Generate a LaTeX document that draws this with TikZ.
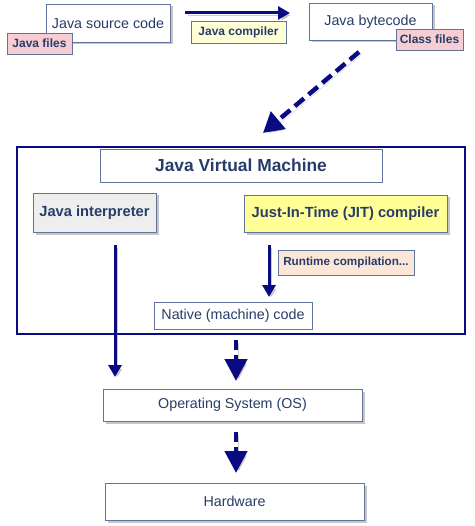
\documentclass[tikz,border=0pt]{standalone}
\usepackage{fontspec}
\setmainfont{Liberation Sans}
\usetikzlibrary{arrows.meta,shadows}
\definecolor{txt}{RGB}{40,60,105}
\definecolor{bord}{RGB}{95,115,155}
\definecolor{navy}{RGB}{10,10,130}
\definecolor{pinkfill}{RGB}{245,205,210}
\definecolor{lyellow}{RGB}{255,255,215}
\definecolor{jityellow}{RGB}{255,255,150}
\definecolor{peach}{RGB}{252,230,215}
\definecolor{lgray}{RGB}{238,238,238}
\tikzset{
  box/.style={draw=bord, line width=0.8pt, fill=white, text=txt, inner sep=0pt,
    drop shadow={shadow xshift=2.5pt, shadow yshift=-2.5pt, opacity=0.45, fill=gray}},
  plain/.style={draw=bord, line width=0.8pt, fill=white, text=txt, inner sep=0pt},
  tag/.style={draw=bord, line width=0.8pt, text=txt, inner sep=0pt, font=\bfseries\fontsize{12}{14}\selectfont},
  reg/.style={font=\fontsize{14.3}{17}\selectfont},
  ashadow/.style={preaction={draw=gray, opacity=0.4, transform canvas={shift={(2.5pt,-2.5pt)}}}},
  arr/.style={draw=navy, line width=3pt, -{Triangle[length=12pt,width=13pt]}, ashadow},
  darr/.style={draw=navy, line width=4.5pt, dash pattern=on 10pt off 5pt, -{Triangle[length=22pt,width=22pt]}, ashadow},
}
\begin{document}
\begin{tikzpicture}[x=1pt,y=-1pt]
\useasboundingbox (0,0) rectangle (474,526);
% top row
\node[box, reg, minimum width=124pt, minimum height=38pt] (src) at (108,23) {Java source code};
\node[tag, fill=pinkfill, minimum width=65pt, minimum height=21pt] (jf) at (39.5,43.5) {Java files};
\node[box, reg, minimum width=123pt, minimum height=37pt] (bc) at (370.5,21.5) {Java bytecode};
\node[tag, fill=pinkfill, minimum width=67pt, minimum height=21pt] (cf) at (429.5,39.5) {Class files};
\node[tag, fill=lyellow, minimum width=95pt, minimum height=22pt] (jc) at (238.5,32) {Java compiler};
\coordinate (a1s) at (185,13);
\coordinate (a1e) at (290,13);
\draw[arr] (a1s) -- (a1e);
% JVM
\draw[navy, line width=1.8pt] (17,147) rectangle (465,334);
\node[plain, font=\bfseries\fontsize{17.4}{20}\selectfont, minimum width=282pt, minimum height=33pt] (jvm) at (241,165.5) {Java Virtual Machine};
\coordinate (d1s) at (359,52);
\coordinate (d1e) at (263,133);
\draw[darr, dash pattern=on 12pt off 6pt, -{Triangle[length=20pt,width=22pt]}] (d1s) -- (d1e);
\node[box, fill=lgray, font=\bfseries\fontsize{14.7}{17}\selectfont, minimum width=123pt, minimum height=39pt] (interp) at (94.5,212.5) {Java interpreter};
\node[box, fill=jityellow, font=\bfseries\fontsize{14.7}{17}\selectfont, minimum width=203pt, minimum height=37pt] (jit) at (345.5,213.5) {Just-In-Time (JIT) compiler};
\node[tag, fill=peach, font=\bfseries\fontsize{11.7}{14}\selectfont, minimum width=136pt, minimum height=25pt] (rc) at (346,262.5) {Runtime compilation...};
\node[plain, reg, minimum width=158pt, minimum height=27pt] (nat) at (233,315.5) {Native (machine) code};
\coordinate (j1s) at (269,245);
\coordinate (j1e) at (269,297);
\draw[arr] (j1s) -- (j1e);
% bottom
\node[box, reg, minimum width=259pt, minimum height=32pt] (os) at (232.5,405) {Operating System (OS)};
\node[box, reg, minimum width=259pt, minimum height=37pt] (hw) at (234.5,501.5) {Hardware};
\coordinate (i1s) at (115,245);
\coordinate (i1e) at (115,377);
\draw[arr] (i1s) -- (i1e);
\coordinate (n1s) at (236,340);
\coordinate (n1e) at (236,381);
\draw[darr] (n1s) -- (n1e);
\coordinate (o1s) at (236,432);
\coordinate (o1e) at (236,473);
\draw[darr] (o1s) -- (o1e);
\end{tikzpicture}
\end{document}
